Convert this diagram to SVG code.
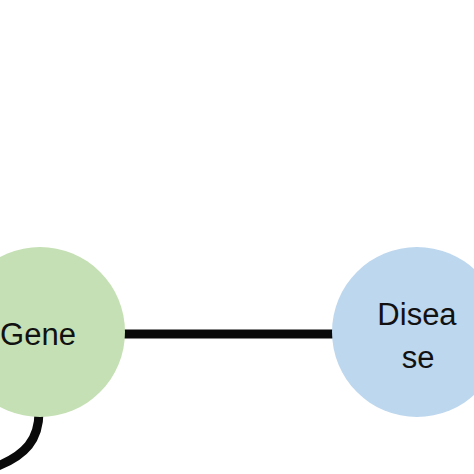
<svg xmlns="http://www.w3.org/2000/svg" width="474" height="474" viewBox="0 0 474 474">
<style>
.lbl{font-family:"Liberation Sans",Arial,sans-serif;font-size:31px;fill:#111;text-anchor:middle}
.edge{stroke:#0a0a0a;stroke-width:9;fill:none}
</style>
<rect width="474" height="474" fill="#ffffff"/>
<g id="connectors">
<line class="edge" x1="120" y1="334" x2="340" y2="334"/>
<path class="edge" d="M39,412 C39,440 25,455 -2,466"/>
</g>
<g id="node-gene">
<circle cx="40" cy="332" r="85" fill="#c5e0b4"/>
<text class="lbl" x="38" y="345">Gene</text>
</g>
<g id="node-disease">
<circle cx="417" cy="332" r="85" fill="#bdd7ee"/>
<text class="lbl" x="417" y="325">Disea</text>
<text class="lbl" x="418" y="368">se</text>
</g>
</svg>
